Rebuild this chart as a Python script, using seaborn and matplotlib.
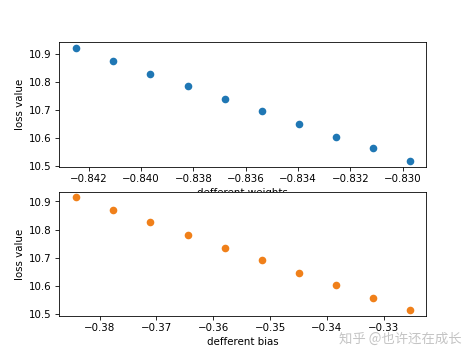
import matplotlib
matplotlib.use("Agg")
import matplotlib.pyplot as plt
import seaborn as sns
import pandas as pd

# values
weights = [-0.84249, -0.84106, -0.83965, -0.83821, -0.83679,
           -0.83537, -0.83396, -0.83254, -0.83113, -0.82974]
loss_w = [10.920, 10.875, 10.829, 10.783, 10.738,
          10.694, 10.649, 10.604, 10.562, 10.517]

biases = [-0.38417, -0.37759, -0.37107, -0.36445, -0.35794,
          -0.35142, -0.34491, -0.33840, -0.33188, -0.32547]
loss_b = [10.915, 10.870, 10.827, 10.782, 10.736,
          10.691, 10.647, 10.602, 10.557, 10.513]

df_w = pd.DataFrame({"w": weights, "loss": loss_w})
df_b = pd.DataFrame({"b": biases, "loss": loss_b})

fig, axes = plt.subplots(2, 1, figsize=(6.4, 4.8), dpi=74)

sns.scatterplot(data=df_w, x="w", y="loss", ax=axes[0],
                color="#1f77b4", s=55, linewidth=0)
axes[0].set_xlabel("defferent weights")
axes[0].set_ylabel("loss value")

sns.scatterplot(data=df_b, x="b", y="loss", ax=axes[1],
                color="#f0801a", s=55, linewidth=0)
axes[1].set_xlabel("defferent bias")
axes[1].set_ylabel("loss value")

# watermark
fig.text(0.975, 0.045, "知乎 @也许还在成长", ha="right", va="center",
         fontsize=13, color="#c4c4c4",
         family=["Noto Sans CJK SC", "DejaVu Sans"])

fig.savefig("out.png", dpi=74)
